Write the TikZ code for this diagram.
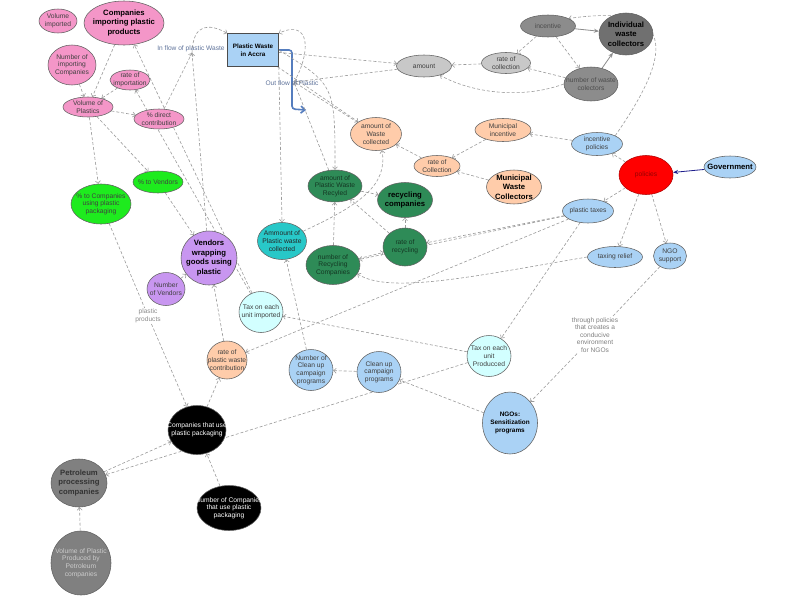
\documentclass[tikz,border=0pt]{standalone}
\usepackage{fontspec}
\setmainfont{Liberation Sans}
\usetikzlibrary{shapes.geometric,arrows.meta}
\pgfdeclarelayer{paper}
\pgfdeclarelayer{links}
\pgfsetlayers{paper,links,main}
\definecolor{pinkf}{RGB}{244,150,200}
\definecolor{limef}{RGB}{30,235,30}
\definecolor{purplef}{RGB}{200,150,240}
\definecolor{cyanf}{RGB}{210,255,255}
\definecolor{peachf}{RGB}{255,204,170}
\definecolor{dgreenf}{RGB}{46,139,87}
\definecolor{tealf}{RGB}{40,200,200}
\definecolor{bluef}{RGB}{170,210,245}
\definecolor{lgrayf}{RGB}{200,200,200}
\definecolor{mgrayf}{RGB}{140,140,140}
\definecolor{dgrayf}{RGB}{112,112,112}
\definecolor{pgrayf}{RGB}{128,128,128}
\definecolor{linec}{RGB}{155,155,155}
\definecolor{flowc}{RGB}{85,125,190}
\definecolor{labc}{RGB}{95,115,155}
\definecolor{navyc}{RGB}{30,30,140}
\definecolor{redtxt}{RGB}{150,0,0}
\definecolor{greentxt}{RGB}{20,55,35}
\begin{document}
\begin{tikzpicture}[x=1pt,y=-1pt,
  bub/.style={ellipse, draw=black!62, line width=0.55pt, inner sep=0pt},
  txt/.style={inner sep=0pt, align=center, font=\fontsize{6.7}{7.7}\selectfont, text=black!75},
  btxt/.style={inner sep=0pt, align=center, font=\bfseries\fontsize{7.7}{9.4}\selectfont, text=black},
  freelab/.style={inner sep=1pt, align=center, font=\fontsize{6.6}{7.5}\selectfont},
  dl/.style={draw=linec, line width=0.6pt, dash pattern=on 3pt off 2pt, -{Straight Barb[length=2.5pt,width=5pt]}},
  sl/.style={draw=mgrayf, line width=0.8pt, -{Stealth[length=5pt,width=4pt]}},
  gl/.style={draw=navyc, line width=0.8pt, -{Stealth[length=5pt,width=4pt]}},
  flowline/.style={draw=flowc, line width=1.6pt, rounded corners=3pt, -{Straight Barb[length=4pt,width=7pt]}}
]
\begin{pgfonlayer}{paper}
\fill[white] (0,0) rectangle (800,600);
\end{pgfonlayer}
\useasboundingbox (0,0) rectangle (800,600);

% ---------- pink ----------
\node[bub, fill=pinkf, minimum width=38, minimum height=24, label={[txt]center:Volume\\imported}] (volimp) at (58,21) {};
\node[bub, fill=pinkf, minimum width=80, minimum height=44, label={[btxt]center:Companies\\importing plastic\\products}] (compimp) at (124,23) {};
\node[bub, fill=pinkf, minimum width=48, minimum height=40, label={[txt]center:Number of\\importing\\Companies}] (numimp) at (72,65) {};
\node[bub, fill=pinkf, minimum width=40, minimum height=20, label={[txt]center:rate of\\importation}] (rateimp) at (130,80) {};
\node[bub, fill=pinkf, minimum width=50, minimum height=20, label={[txt]center:Volume of\\Plastics}] (volpl) at (88,107) {};
\node[bub, fill=pinkf, minimum width=50, minimum height=20, label={[txt]center:\% direct\\contribution}] (direct) at (159,119) {};

% ---------- lime ----------
\node[bub, fill=limef, minimum width=60, minimum height=40, label={[txt]center:\% to Companies\\using plastic\\packaging}] (comppack) at (101,204) {};
\node[bub, fill=limef, minimum width=50, minimum height=22, label={[txt]center:\% to Vendors}] (vendpct) at (158,182) {};

% ---------- purple ----------
\node[bub, fill=purplef, minimum width=56, minimum height=54, label={[btxt]center:Vendors\\wrapping\\goods using\\plastic}] (vendors) at (209,258) {};
\node[bub, fill=purplef, minimum width=38, minimum height=33, label={[txt]center:Number\\of Vendors}] (numvend) at (166,289) {};

% ---------- cyan ----------
\node[bub, fill=cyanf, minimum width=44, minimum height=41, label={[txt]center:Tax on each\\unit imported}] (taximp) at (261,312) {};
\node[bub, fill=cyanf, minimum width=44, minimum height=41, label={[txt]center:Tax on each\\unit\\Producced}] (taxprod) at (489,356) {};

% ---------- peach ----------
\node[bub, fill=peachf, minimum width=40, minimum height=38, label={[txt]center:rate of\\plastic waste\\contribution}] (ratecontrib) at (227,360) {};
\node[bub, fill=peachf, minimum width=51, minimum height=33, label={[txt]center:amount of\\Waste\\collected}] (wastecoll) at (376,134) {};
\node[bub, fill=peachf, minimum width=46, minimum height=21, label={[txt]center:rate of\\Collection}] (ratecoll) at (437,166) {};
\node[bub, fill=peachf, minimum width=56, minimum height=23, label={[txt]center:Municipal\\incentive}] (munincent) at (503,130) {};
\node[bub, fill=peachf, minimum width=55, minimum height=34, label={[btxt]center:Municipal\\Waste\\Collectors}] (muncoll) at (514,187) {};

% ---------- black ----------
\node[bub, fill=black, minimum width=58, minimum height=49, label={[txt,text=white]center:Companies that use\\plastic packaging}] (comppl) at (197,430) {};
\node[bub, fill=black, minimum width=64, minimum height=45, label={[txt,text=white]center:Number of Companies\\that use plastic\\packaging}] (numcomp) at (229,508) {};

% ---------- grey ----------
\node[bub, fill=pgrayf, minimum width=56, minimum height=48, label={[btxt,text=black!80]center:Petroleum\\processing\\companies}] (petro) at (79,483) {};
\node[bub, fill=pgrayf, minimum width=60, minimum height=64, label={[txt,text=black!20]center:Volume of Plastic\\Produced by\\Petroleum\\companies}] (volpetro) at (81,563) {};
\node[bub, fill=lgrayf, minimum width=55, minimum height=22, label={[txt]center:amount}] (amount) at (424,66) {};
\node[bub, fill=lgrayf, minimum width=49, minimum height=21, label={[txt]center:rate of\\collection}] (ratecollg) at (506,63) {};
\node[bub, fill=mgrayf, minimum width=55, minimum height=22, label={[txt,text=black!70]center:incentive}] (incentive) at (548,26) {};
\node[bub, fill=mgrayf, minimum width=54, minimum height=34, label={[txt,text=black!70]center:number of waste\\colectors}] (numwc) at (591,84) {};
\node[bub, fill=dgrayf, minimum width=54, minimum height=42, label={[btxt]center:Individual\\waste\\collectors}] (indiv) at (626,34) {};

% ---------- stock ----------
\node[draw=black!70, fill=bluef, line width=0.6pt, minimum width=51, minimum height=33, inner sep=0pt, align=center, font=\bfseries\fontsize{6.3}{7.8}\selectfont] (stock) at (253,50) {Plastic Waste\\in Accra};

% ---------- blue ----------
\node[bub, fill=bluef, minimum width=51, minimum height=23, label={[txt]center:incentive\\policies}] (incpol) at (597,144) {};
\node[bub, fill=bluef, minimum width=52, minimum height=22, label={[btxt]center:Government}] (gov) at (730,167) {};
\node[bub, fill=bluef, minimum width=51, minimum height=24, label={[txt]center:plastic taxes}] (plastax) at (588,211) {};
\node[bub, fill=bluef, minimum width=55, minimum height=21, label={[txt]center:taxing relief}] (taxrel) at (615,257) {};
\node[bub, fill=bluef, minimum width=33, minimum height=26, label={[txt]center:NGO\\support}] (ngosup) at (670,256) {};
\node[bub, fill=bluef, minimum width=55, minimum height=62, label={[btxt,font=\bfseries\fontsize{6.4}{7.8}\selectfont]center:NGOs:\\Sensitization\\programs}] (ngos) at (510,423) {};
\node[bub, fill=bluef, minimum width=44, minimum height=41, label={[txt]center:Number of\\Clean up\\campaign\\programs}] (numclean) at (311,370) {};
\node[bub, fill=bluef, minimum width=44, minimum height=41, label={[txt]center:Clean up\\campaign\\programs}] (clean) at (379,372) {};

% ---------- red ----------
\node[bub, fill=red, draw=red!70!black, minimum width=54, minimum height=39, label={[txt,text=redtxt]center:policies}] (policies) at (646,175) {};

% ---------- dark green / teal ----------
\node[bub, fill=dgreenf, minimum width=54, minimum height=32, label={[txt,text=greentxt]center:amount of\\Plastic Waste\\Recyled}] (recyc) at (335,186) {};
\node[bub, fill=dgreenf, minimum width=55, minimum height=35, label={[btxt]center:recycling\\companies}] (recycomp) at (405,200) {};
\node[bub, fill=dgreenf, minimum width=44, minimum height=38, label={[txt,text=greentxt]center:rate of\\recycling}] (raterec) at (405,247) {};
\node[bub, fill=dgreenf, minimum width=54, minimum height=39, label={[txt,text=greentxt]center:number of\\Recycling\\Companies}] (numrec) at (333,265) {};
\node[bub, fill=tealf, minimum width=49, minimum height=37, label={[txt,text=black!85]center:Ammount of\\Plastic waste\\collected}] (teal) at (282,241) {};

% ---------- free labels ----------
\node[freelab, text=labc] (inflab) at (191,49) {In flow of plastic Waste};
\node[freelab, text=labc] (outlab) at (292,83) {Out flow of Plastic};
\node[freelab, text=black!45] (prodlab) at (148,316) {plastic\\products};
\node[freelab, text=black!50] (ngolab) at (595,335) {through policies\\that creates a\\conducive\\environment\\for NGOs};
\coordinate (inv) at (192,53);
\coordinate (outv) at (294,82);
\coordinate (flowend) at (306,110);

\begin{pgfonlayer}{links}
% ---------- flow ----------
\draw[flowline] (stock.east) -- (292,50) -- (292,109) -- (flowend);

% ---------- connectors ----------
\draw[dl] (numimp) -- (volpl);
\draw[dl] (compimp) -- (volpl);
\draw[dl] (rateimp) -- (volpl);
\draw[dl] (volpl) -- (direct);
\draw[dl] (volpl) -- (comppack);
\draw[dl] (volpl) -- (vendpct);
\draw[dl] (taximp) -- (compimp);
\draw[dl] (taximp) -- (rateimp);
\draw[dl] (direct) -- (inv);
\draw[dl] (vendors) -- (inv);
\draw[dl] (inv) .. controls (193,22) and (210,24) .. (stock.north west);
\draw[dl] (outv) .. controls (310,55) and (312,18) .. (stock.north east);
\draw[dl] (stock) -- (amount);
\draw[dl] (amount) -- (outv);
\draw[dl] (stock) -- (wastecoll);
\draw[dl] (wastecoll) -- (outv);
\draw[dl] (stock.east) .. controls (335,85) .. (recyc.north);
\draw[dl] (recyc) -- (outv);
\draw[dl] (stock.south east) -- (teal.north);
\draw[dl] (teal) .. controls (360,205) and (388,185) .. (wastecoll.-70);
\draw[dl] (numclean) -- (teal);
\draw[dl] (clean) -- (numclean);
\draw[dl] (ngos) -- (clean);
\draw[dl] (ratecollg) -- (amount);
\draw[dl] (numwc.west) .. controls (520,100) and (470,92) .. (amount.-30);
\draw[dl] (numwc) -- (ratecollg);
\draw[dl] (incentive) -- (ratecollg);
\draw[dl] (incentive) -- (numwc);
\draw[sl] (incentive) -- (indiv);
\draw[sl] (numwc) -- (indiv);
\draw[dl] (incpol.north east) .. controls (668,60) and (685,2) .. (incentive.20);
\draw[dl] (incpol) -- (munincent);
\draw[dl] (munincent) -- (ratecoll);
\draw[dl] (muncoll) -- (ratecoll);
\draw[dl] (ratecoll) -- (wastecoll);
\draw[dl] (policies) -- (incpol);
\draw[gl] (gov) -- (policies);
\draw[dl] (policies) -- (plastax);
\draw[dl] (policies) -- (taxrel);
\draw[dl] (policies) -- (ngosup);
\draw[dl] (ngosup) -- (ngolab) -- (ngos);
\draw[dl] (plastax) -- (raterec);
\draw[dl] (plastax) -- (taxprod);
\draw[dl] (plastax) -- (ratecontrib);
\draw[dl] (plastax) -- (numrec);
\draw[dl] (taxrel.west) .. controls (480,275) and (390,295) .. (numrec.-20);
\draw[dl] (recyc) -- (recycomp);
\draw[dl] (raterec) -- (recycomp);
\draw[dl] (raterec) -- (recyc);
\draw[dl] (numrec) -- (recyc);
\draw[dl] (numrec) -- (raterec);
\draw[dl] (vendpct) -- (vendors);
\draw[dl] (numvend) -- (vendors);
\draw[dl] (ratecontrib) -- (vendors);
\draw[dl] (comppack) -- (prodlab) -- (comppl);
\draw[dl] (comppl) -- (ratecontrib);
\draw[dl] (numcomp) -- (comppl);
\draw[dl] (petro) -- (comppl);
\draw[dl] (volpetro) -- (petro);
\draw[dl] (taxprod) -- (petro);
\draw[dl] (taxprod) -- (taximp);
\end{pgfonlayer}
\end{tikzpicture}
\end{document}
